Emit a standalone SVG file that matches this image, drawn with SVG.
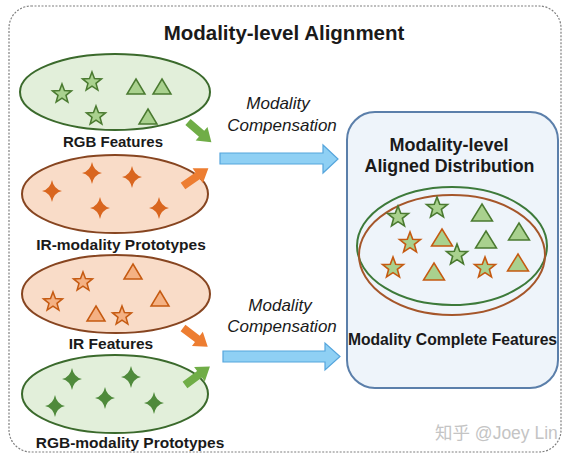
<svg xmlns="http://www.w3.org/2000/svg" xmlns:xlink="http://www.w3.org/1999/xlink" width="569" height="459" viewBox="0 0 569 459">
<style>
.lbl{font-family:"Liberation Sans",Arial,sans-serif;font-weight:bold;fill:#1a1a1a;text-anchor:middle}
.it{font-family:"Liberation Sans",Arial,sans-serif;font-style:italic;fill:#1a1a1a;text-anchor:middle;font-size:17px}
.gEl{fill:#e2efda;stroke:#3b6a2c;stroke-width:2}
.oEl{fill:#f9dcc8;stroke:#874520;stroke-width:2}
.gS{fill:#a9d18e;stroke:#4a7a30;stroke-width:1.5}
.oS{fill:#f4b183;stroke:#c55a11;stroke-width:1.5}
.mS{fill:#a9d18e;stroke:#c55a11;stroke-width:1.5}
.oSp{fill:#d9661f}
.gSp{fill:#4f8a3b}
.big{fill:#8fd0f4;stroke:#55a5dc;stroke-width:1.2}
</style>
<defs>
<path id="st" d="M0,-10 L2.47,-3.4 L9.51,-3.09 L3.99,1.3 L5.88,8.09 L0,4.2 L-5.88,8.09 L-3.99,1.3 L-9.51,-3.09 L-2.47,-3.4Z"/>
<path id="sp" d="M0,-11 Q1.8,-1.8 10,0 Q1.8,1.8 0,11 Q-1.8,1.8 -10,0 Q-1.8,-1.8 0,-11Z"/>
<path id="tr" d="M0,-8 L9,7 L-9,7Z"/>
<path id="trb" d="M0,-9 L10.5,8 L-10.5,8Z"/>
<path id="sa" d="M0,-4 L18,-4 L18,-9 L31,0 L18,9 L18,4 L0,4Z"/>
</defs>
<rect x="0" y="0" width="569" height="459" fill="#ffffff"/>
<rect x="9" y="6" width="552" height="446" rx="22" fill="none" stroke="#7f7f7f" stroke-width="1.2" stroke-dasharray="2 1.5"/>
<text class="lbl" x="284" y="40" font-size="20.5">Modality-level Alignment</text>

<g id="rgb-features">
<ellipse class="gEl" cx="115" cy="92" rx="95" ry="38"/>
<use xlink:href="#st" class="gS" x="62" y="94"/>
<use xlink:href="#st" class="gS" x="92" y="82"/>
<use xlink:href="#st" class="gS" x="96" y="116"/>
<use xlink:href="#tr" class="gS" x="136" y="87"/>
<use xlink:href="#tr" class="gS" x="162" y="87"/>
<use xlink:href="#tr" class="gS" x="148" y="117"/>
<text class="lbl" x="113" y="146.5" font-size="15">RGB Features</text>
</g>

<g id="ir-prototypes">
<ellipse class="oEl" cx="115" cy="194" rx="93" ry="39"/>
<use xlink:href="#sp" class="oSp" x="52" y="191"/>
<use xlink:href="#sp" class="oSp" x="92" y="173"/>
<use xlink:href="#sp" class="oSp" x="132" y="177"/>
<use xlink:href="#sp" class="oSp" x="100" y="208"/>
<use xlink:href="#sp" class="oSp" x="159" y="208"/>
<text class="lbl" x="121" y="249.5" font-size="15.5">IR-modality Prototypes</text>
</g>

<g id="ir-features">
<ellipse class="oEl" cx="116" cy="294" rx="94" ry="39"/>
<use xlink:href="#st" class="oS" x="53" y="302"/>
<use xlink:href="#st" class="oS" x="83" y="282"/>
<use xlink:href="#st" class="oS" x="122" y="316"/>
<use xlink:href="#tr" class="oS" x="133" y="272"/>
<use xlink:href="#tr" class="oS" x="160" y="299"/>
<use xlink:href="#tr" class="oS" x="96" y="314"/>
<text class="lbl" x="111" y="348.5" font-size="15.5">IR Features</text>
</g>

<g id="rgb-prototypes">
<ellipse class="gEl" cx="115" cy="394" rx="93" ry="39"/>
<use xlink:href="#sp" class="gSp" x="72" y="379"/>
<use xlink:href="#sp" class="gSp" x="131" y="377"/>
<use xlink:href="#sp" class="gSp" x="105" y="398"/>
<use xlink:href="#sp" class="gSp" x="55" y="406"/>
<use xlink:href="#sp" class="gSp" x="154" y="403"/>
<text class="lbl" x="130" y="447.5" font-size="15.5">RGB-modality Prototypes</text>
</g>

<g id="aligned-distribution">
<rect x="347" y="112" width="211" height="276" rx="28" fill="#eef4fa" stroke="#5b7faa" stroke-width="2"/>
<text class="lbl" x="449" y="150.5" font-size="18">Modality-level</text>
<text class="lbl" x="449.5" y="171.5" font-size="17.8">Aligned Distribution</text>
<ellipse cx="452" cy="246" rx="95" ry="59" fill="none" stroke="#3d7a3a" stroke-width="2"/>
<ellipse cx="452" cy="255" rx="93" ry="60" fill="none" stroke="#a5562a" stroke-width="2"/>
<use xlink:href="#st" class="gS" x="398" y="217" transform="translate(398 217) scale(1.1) translate(-398 -217)"/>
<use xlink:href="#st" class="gS" x="437" y="208" transform="translate(437 208) scale(1.1) translate(-437 -208)"/>
<use xlink:href="#st" class="gS" x="457" y="255" transform="translate(457 255) scale(1.1) translate(-457 -255)"/>
<use xlink:href="#st" class="mS" x="410" y="243" transform="translate(410 243) scale(1.1) translate(-410 -243)"/>
<use xlink:href="#st" class="mS" x="393" y="268" transform="translate(393 268) scale(1.1) translate(-393 -268)"/>
<use xlink:href="#st" class="mS" x="485" y="268" transform="translate(485 268) scale(1.1) translate(-485 -268)"/>
<use xlink:href="#trb" class="gS" x="482" y="213"/>
<use xlink:href="#trb" class="gS" x="519" y="232"/>
<use xlink:href="#trb" class="gS" x="486" y="240"/>
<use xlink:href="#trb" class="mS" x="442" y="238"/>
<use xlink:href="#trb" class="mS" x="434" y="272"/>
<use xlink:href="#trb" class="mS" x="518" y="263"/>
<text class="lbl" x="452.5" y="344.5" font-size="15.7">Modality Complete Features</text>
</g>

<g id="connectors">
<use xlink:href="#sa" fill="#70ad47" transform="translate(188 122) rotate(41)"/>
<use xlink:href="#sa" fill="#ed7d31" transform="translate(183 186) rotate(-35)"/>
<use xlink:href="#sa" fill="#ed7d31" transform="translate(183 328) rotate(37)"/>
<use xlink:href="#sa" fill="#70ad47" transform="translate(185 385) rotate(-36.5)"/>
<polygon class="big" points="220,153 323,153 323,145 338,159 323,173 323,164 220,164"/>
<polygon class="big" points="223,351 325,351 325,343 340,356.5 325,370 325,362 223,362"/>
<text class="it" x="278" y="109">Modality</text>
<text class="it" x="282" y="131">Compensation</text>
<text class="it" x="280" y="311">Modality</text>
<text class="it" x="282" y="332">Compensation</text>
</g>

<text x="435" y="439" font-family="Liberation Sans,Noto Sans CJK SC,sans-serif" font-size="17.5" fill="#c4c4c4">知乎 @Joey Lin</text>
</svg>
